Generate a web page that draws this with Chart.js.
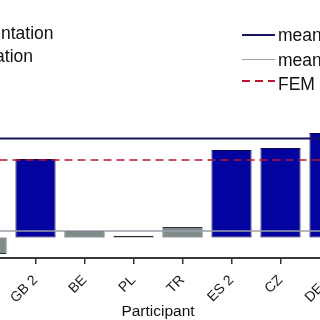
<!DOCTYPE html>
<html><head><meta charset="utf-8">
<script src="https://cdn.jsdelivr.net/npm/chart.js@4.4.1/dist/chart.umd.min.js"></script>
<style>
html,body{margin:0;padding:0;background:#fff;}
#wrap{position:relative;width:320px;height:320px;overflow:hidden;background:#fff;font-family:Arial,'Liberation Sans',sans-serif;}
#c{position:absolute;left:-38px;top:0;}
.lg{position:absolute;font-size:17.5px;line-height:1;color:#111;white-space:nowrap;}
.sw{position:absolute;}
</style></head><body>
<div id="wrap"><canvas id="c" width="392" height="325"></canvas><div id="legend"></div></div>
<script>
// ---- data ----
const participants = ['GB 1', 'GB 2', 'BE', 'PL', 'TR', 'ES 2', 'CZ', 'DE 1'];
const groupAValues = [null, 7.85, null, null, null, 8.75, 8.95, 10.45];
const groupBValues = [-1.65, null, 0.65, 0.18, 1.05, null, null, null];
const meanGroupA = 9.9;
const meanGroupB = 0.65;
const femValue = 7.75;
const seriesLabels = ['Orientation', 'Rotation'];
const lineLabels = ['mean orientation', 'mean rotation', 'FEM'];
const axisTitle = 'Participant';

// ---- layout ----
const CANVAS_H = 325;
const AXIS_Y = 258;
const FONT = "Arial, 'Liberation Sans', sans-serif";
Chart.defaults.font.family = FONT;

const chart = new Chart(document.getElementById('c'), {
  type: 'bar',
  data: {
    labels: participants,
    datasets: [
      { label: seriesLabels[0], data: groupAValues, backgroundColor: '#0303a0', borderColor: '#0a0a48',
        borderWidth: 1, borderSkipped: false, barPercentage: 0.82, categoryPercentage: 1, order: 2 },
      { label: seriesLabels[1], data: groupBValues, backgroundColor: '#7f8b8b', borderColor: '#2e3333',
        borderWidth: 1, borderSkipped: false, barPercentage: 0.82, categoryPercentage: 1, order: 2 },
      { type: 'line', label: lineLabels[0], data: participants.map(() => meanGroupA), borderColor: '#151560',
        borderWidth: 2, pointRadius: 0, fill: false, order: 0 },
      { type: 'line', label: lineLabels[1], data: participants.map(() => meanGroupB), borderColor: '#9aa1aa',
        borderWidth: 1.5, pointRadius: 0, fill: false, order: 0 },
      { type: 'line', label: lineLabels[2], data: participants.map(() => femValue), borderColor: '#c0142c',
        borderWidth: 1.5, borderDash: [8, 5], pointRadius: 0, fill: false, order: 0 }
    ]
  },
  options: {
    responsive: false,
    animation: false,
    layout: { padding: { top: 117.5, left: 0, right: 0, bottom: 0 } },
    plugins: { legend: { display: false }, tooltip: { enabled: false } },
    scales: {
      x: {
        stacked: true,
        offset: true,
        grid: { display: true, drawOnChartArea: false, drawTicks: true, tickLength: 6, offset: false, color: '#333', lineWidth: 1.5 },
        border: { display: true, color: '#383838', width: 2 },
        ticks: { minRotation: 45, maxRotation: 45, autoSkip: false, padding: 8, color: '#1a1a1a', font: { size: 14 } },
        title: { display: true, text: axisTitle, color: '#111', font: { size: 15.5 }, padding: { top: 4, bottom: 4 } },
        afterFit(scale) { scale.height = CANVAS_H - AXIS_Y; scale.paddingLeft = 0; scale.paddingRight = 0; }
      },
      y: { display: false, stacked: false, min: -2.05, max: 12 }
    }
  }
});

// ---- HTML legend (real text) ----
const ds = chart.data.datasets;
const legend = document.getElementById('legend');
function el(cls, css, text) {
  const d = document.createElement('div');
  d.className = cls;
  d.style.cssText = css;
  if (text) d.textContent = text;
  legend.appendChild(d);
  return d;
}
// left block: bar swatches + labels, right edge of first label at x=53.5
const box = el('lg', 'right:266.5px;top:0;height:70px;', '');
box.style.position = 'absolute';
const rowsTop = [24.5, 48.2];
[0, 1].forEach((i, k) => {
  const row = document.createElement('div');
  row.style.cssText = 'position:absolute;left:0;top:' + rowsTop[k] + 'px;white-space:nowrap;';
  const sw = document.createElement('span');
  sw.style.cssText = 'position:absolute;left:-30px;top:3px;width:22px;height:12px;box-sizing:border-box;background:' +
    ds[i].backgroundColor + ';border:1px solid ' + ds[i].borderColor + ';';
  row.appendChild(sw);
  row.appendChild(document.createTextNode(ds[i].label));
  box.appendChild(row);
});
// measure first label so the block's width equals it
const meas = document.createElement('span');
meas.style.cssText = 'visibility:hidden;white-space:nowrap;';
meas.textContent = ds[0].label;
box.appendChild(meas);

// right block: line swatches + labels
const lineY = [34.7, 59.3, 81];
const textTop = [27, 51.5, 75.5];
[2, 3, 4].forEach((i, k) => {
  const w = ds[i].borderWidth;
  let bg = ds[i].borderColor;
  if (ds[i].borderDash) {
    const [on, off] = ds[i].borderDash;
    bg = 'repeating-linear-gradient(to right,' + ds[i].borderColor + ' 0 ' + on + 'px,transparent ' + on + 'px ' + (on + off) + 'px)';
  }
  el('sw', 'left:242px;width:33px;top:' + (lineY[k] - w / 2) + 'px;height:' + w + 'px;background:' + bg + ';');
  el('lg', 'left:278px;top:' + textTop[k] + 'px;', ds[i].label);
});
</script>
</body></html>
